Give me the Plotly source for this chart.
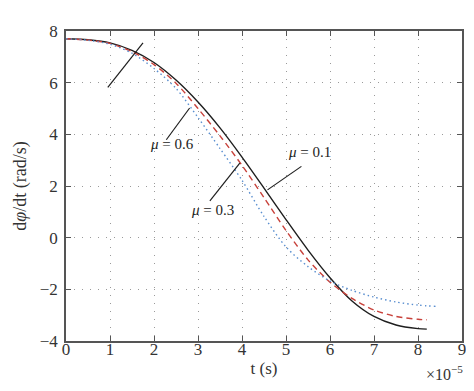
import plotly.graph_objects as go

# time axis (units of 1e-5 s)
t_main = [0, 0.5, 1.0, 1.5, 2.0, 2.5, 3.0, 3.5, 4.0, 4.5, 5.0, 5.5, 6.0, 6.5, 7.0, 7.5, 8.0, 8.2]
t_blue = [0, 0.5, 1.0, 1.5, 2.0, 2.5, 3.0, 3.5, 4.0, 4.5, 5.0, 5.5, 6.0, 6.5, 7.0, 7.5, 8.0, 8.4]

mu01 = [7.70, 7.66, 7.54, 7.25, 6.78, 6.10, 5.25, 4.25, 3.12, 1.92, 0.70, -0.48, -1.55, -2.45, -3.05, -3.38, -3.52, -3.54]
mu03 = [7.70, 7.65, 7.52, 7.20, 6.70, 5.98, 5.00, 3.94, 2.80, 1.55, 0.28, -0.86, -1.72, -2.35, -2.80, -3.05, -3.16, -3.18]
mu06 = [7.70, 7.64, 7.49, 7.14, 6.55, 5.78, 4.65, 3.45, 2.22, 0.82, -0.36, -1.12, -1.68, -2.04, -2.30, -2.49, -2.61, -2.66]

x_ticks = [0, 1, 2, 3, 4, 5, 6, 7, 8, 9]
y_ticks = [-4, -2, 0, 2, 4, 6, 8]

labels = ["<i>μ</i> = 0.6", "<i>μ</i> = 0.3", "<i>μ</i> = 0.1"]
label_pos = [(2.5, 3.5), (3.42, 0.95), (5.63, 3.21)]
leader_lines = [((0.95, 5.82), (1.75, 7.54)),
                ((2.28, 3.79), (2.81, 5.02)),
                ((3.27, 1.42), (3.95, 2.89)),
                ((4.58, 1.85), (5.35, 2.76))]

FONT = "Liberation Serif"
TXT = "#333"

fig = go.Figure()
fig.add_trace(go.Scatter(x=t_main, y=mu01, mode="lines",
                         line=dict(color="#1e1e1e", width=1.4, shape="spline", smoothing=0.8)))
fig.add_trace(go.Scatter(x=t_main, y=mu03, mode="lines",
                         line=dict(color="#c8413a", width=1.4, dash="6px,4px", shape="spline", smoothing=0.8)))
fig.add_trace(go.Scatter(x=t_blue, y=mu06, mode="lines",
                         line=dict(color="#5a8fd0", width=1.4, dash="1.5px,3px", shape="spline", smoothing=0.8)))

for (x0, y0), (x1, y1) in leader_lines:
    fig.add_shape(type="line", xref="x", yref="y", x0=x0, y0=y0, x1=x1, y1=y1,
                  line=dict(color="#1e1e1e", width=1.2))

for txt, (lx, ly) in zip(labels, label_pos):
    fig.add_annotation(x=lx, y=ly, xref="x", yref="y", text=txt, showarrow=False,
                       xshift=-4, yshift=3,
                       font=dict(family=FONT, size=15, color="#222"))

fig.add_annotation(x=1.0, y=-0.102, xref="paper", yref="paper", xanchor="right", yanchor="middle",
                   xshift=3, text="×10<sup>−5</sup>", showarrow=False,
                   font=dict(family=FONT, size=16, color=TXT))

axis_common = dict(showline=True, linecolor="#555", linewidth=1.5, mirror="ticks",
                   ticks="inside", ticklen=5, tickcolor="#555", tickwidth=1,
                   showgrid=True, gridcolor="#9a9a9a", griddash="1px,7px", gridwidth=1,
                   zeroline=False, tickfont=dict(family=FONT, size=17, color=TXT))

fig.update_xaxes(range=[0, 9], tickvals=x_ticks, ticklabelstandoff=-8,
                 title=dict(text="t (s)", standoff=4,
                 font=dict(family=FONT, size=17, color=TXT)), **axis_common)
fig.update_yaxes(range=[-4, 8], tickvals=y_ticks, ticklabelstandoff=3,
                 title=dict(text="d<i>φ</i>/dt (rad/s)", standoff=8,
                 font=dict(family=FONT, size=18, color=TXT)), **axis_common)

fig.update_layout(width=474, height=391, margin=dict(l=58, r=20, t=23, b=58),
                  plot_bgcolor="white", paper_bgcolor="white", showlegend=False)

fig.write_html("out.html")
